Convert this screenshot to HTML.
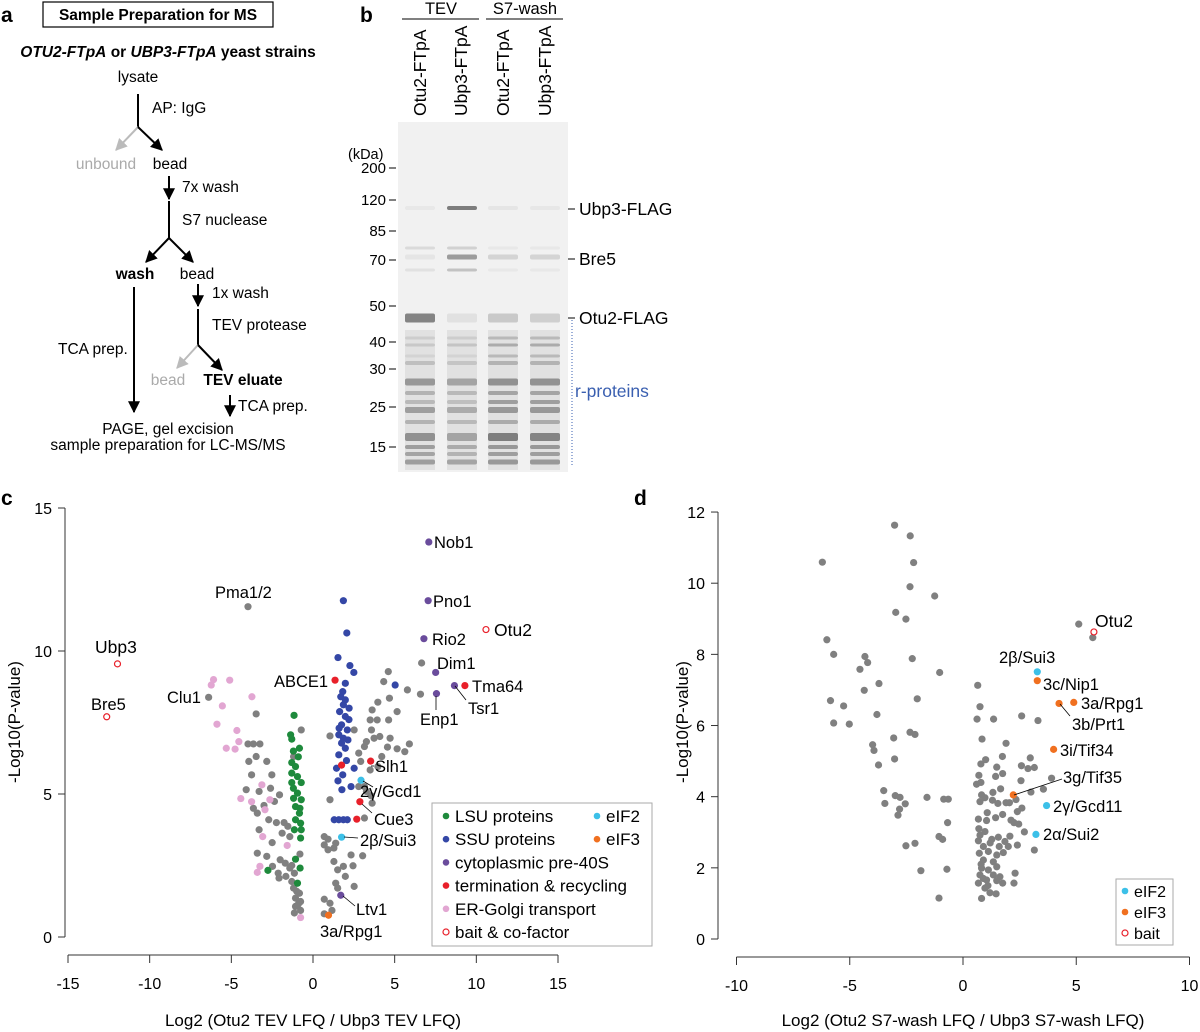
<!DOCTYPE html>
<html><head><meta charset="utf-8">
<style>
html,body{margin:0;padding:0;background:#fff;}
svg{display:block;font-family:"Liberation Sans",Arial,sans-serif;}
</style></head>
<body>
<svg id="fig" width="1200" height="1032" viewBox="0 0 1200 1032" xmlns="http://www.w3.org/2000/svg">
<defs>
<marker id="ah" viewBox="0 0 10 10" refX="9" refY="5" markerWidth="6" markerHeight="6" orient="auto"><path d="M0,0 L10,5 L0,10 z" fill="#000"/></marker>
<marker id="ahg" viewBox="0 0 10 10" refX="9" refY="5" markerWidth="6" markerHeight="6" orient="auto"><path d="M0,0 L10,5 L0,10 z" fill="#bbb"/></marker>
</defs>

<!-- Panel a: flowchart -->
<g font-size="15.5">
<text x="1" y="22" font-size="21" font-weight="bold">a</text>
<rect x="43" y="2" width="230" height="25" fill="none" stroke="#000" stroke-width="1.2"/>
<text x="158" y="20" text-anchor="middle" font-weight="bold" font-size="15.5">Sample Preparation for MS</text>
<text x="168" y="57" text-anchor="middle" font-weight="bold" font-size="15.5"><tspan font-style="italic">OTU2-FTpA</tspan> or <tspan font-style="italic">UBP3-FTpA</tspan> yeast strains</text>
<text x="138" y="82" text-anchor="middle">lysate</text>
<line x1="138" y1="94" x2="138" y2="127" stroke="#000" stroke-width="2"/>
<text x="152" y="113">AP: IgG</text>
<line x1="138" y1="127" x2="116" y2="150" stroke="#bbb" stroke-width="2" marker-end="url(#ahg)"/>
<line x1="138" y1="127" x2="162" y2="150" stroke="#000" stroke-width="2" marker-end="url(#ah)"/>
<text x="106" y="169" text-anchor="middle" fill="#aaa">unbound</text>
<text x="170" y="169" text-anchor="middle">bead</text>
<line x1="169" y1="176" x2="169" y2="199" stroke="#000" stroke-width="2" marker-end="url(#ah)"/>
<text x="182" y="192">7x wash</text>
<line x1="169" y1="201" x2="169" y2="238" stroke="#000" stroke-width="2"/>
<text x="182" y="225">S7 nuclease</text>
<line x1="169" y1="238" x2="146" y2="262" stroke="#000" stroke-width="2" marker-end="url(#ah)"/>
<line x1="169" y1="238" x2="193" y2="262" stroke="#000" stroke-width="2" marker-end="url(#ah)"/>
<text x="135" y="279" text-anchor="middle" font-weight="bold">wash</text>
<text x="197" y="279" text-anchor="middle">bead</text>
<line x1="134" y1="287" x2="134" y2="412" stroke="#000" stroke-width="2" marker-end="url(#ah)"/>
<text x="58" y="354">TCA prep.</text>
<line x1="198" y1="284" x2="198" y2="306" stroke="#000" stroke-width="2" marker-end="url(#ah)"/>
<text x="212" y="298">1x wash</text>
<line x1="198" y1="309" x2="198" y2="345" stroke="#000" stroke-width="2"/>
<text x="212" y="330">TEV protease</text>
<line x1="198" y1="345" x2="177" y2="368" stroke="#bbb" stroke-width="2" marker-end="url(#ahg)"/>
<line x1="198" y1="345" x2="222" y2="370" stroke="#000" stroke-width="2" marker-end="url(#ah)"/>
<text x="168" y="385" text-anchor="middle" fill="#aaa">bead</text>
<text x="243" y="385" text-anchor="middle" font-weight="bold">TEV eluate</text>
<line x1="230" y1="395" x2="230" y2="416" stroke="#000" stroke-width="2" marker-end="url(#ah)"/>
<text x="238" y="411">TCA prep.</text>
<text x="168" y="434" text-anchor="middle">PAGE, gel excision</text>
<text x="168" y="450" text-anchor="middle">sample preparation for LC-MS/MS</text>
</g>

<!-- Panel b: gel -->
<g font-size="15">
<text x="360" y="22" font-size="21" font-weight="bold">b</text>
<text x="441" y="14" text-anchor="middle" font-size="16.5">TEV</text>
<line x1="402" y1="19" x2="479" y2="19" stroke="#000" stroke-width="1"/>
<text x="525" y="14" text-anchor="middle" font-size="16.5">S7-wash</text>
<line x1="486" y1="19" x2="563" y2="19" stroke="#000" stroke-width="1"/>
<text transform="translate(426,116) rotate(-90)" font-size="17.5">Otu2-FTpA</text>
<text transform="translate(467,116) rotate(-90)" font-size="17.5">Ubp3-FTpA</text>
<text transform="translate(509,116) rotate(-90)" font-size="17.5">Otu2-FTpA</text>
<text transform="translate(551,116) rotate(-90)" font-size="17.5">Ubp3-FTpA</text>
<rect x="398" y="122" width="170" height="350" fill="#f1f1f1"/>
<g id="gelbands"></g>
<text x="348" y="159" font-size="14.5">(kDa)</text>
<g id="markers" font-size="15"></g>
<line x1="568" y1="209" x2="575" y2="209" stroke="#000"/>
<text x="579" y="215" font-size="17.5">Ubp3-FLAG</text>
<line x1="568" y1="259" x2="575" y2="259" stroke="#000"/>
<text x="579" y="265" font-size="17.5">Bre5</text>
<line x1="568" y1="318" x2="575" y2="318" stroke="#000"/>
<text x="579" y="324" font-size="17.5">Otu2-FLAG</text>
<line x1="572" y1="320" x2="572" y2="466" stroke="#3a5fb0" stroke-width="1" stroke-dasharray="1,2"/>
<text x="575" y="397" font-size="17.5" fill="#3a5fb0">r-proteins</text>
</g>

<!-- Panel c -->
<g>
<text x="1" y="505" font-size="21" font-weight="bold">c</text>
<g id="caxes" font-size="16"></g>
<text transform="translate(20,722) rotate(-90)" text-anchor="middle" font-size="17">-Log10(P-value)</text>
<text x="313" y="1026" text-anchor="middle" font-size="17">Log2 (Otu2 TEV LFQ / Ubp3 TEV LFQ)</text>
<g id="cdots"></g>
<g id="clabels" font-size="16.5"></g>
<g>
<rect x="432" y="803" width="220" height="143" fill="#fff" stroke="#aaa" stroke-width="1"/>
<g id="clegend" font-size="17"></g>
</g>
</g>

<!-- Panel d -->
<g>
<text x="634" y="505" font-size="21" font-weight="bold">d</text>
<g id="daxes" font-size="16"></g>
<text transform="translate(688,722) rotate(-90)" text-anchor="middle" font-size="17">-Log10(P-value)</text>
<text x="963" y="1026" text-anchor="middle" font-size="17">Log2 (Otu2 S7-wash LFQ / Ubp3 S7-wash LFQ)</text>
<g id="ddots"></g>
<g id="dlabels" font-size="16.5"></g>
<g>
<rect x="1116" y="879" width="57" height="66" fill="#fff" stroke="#aaa" stroke-width="1"/>
<g id="dlegend" font-size="16"></g>
</g>
</g>
</svg>

<script>
// ---------- Panel c data ----------
const cGray = [[-3.98,11.55],[-6.39,8.38],[6.65,9.58],[4.61,9.28],[4.33,8.93],[5.78,8.64],[6.58,8.49],[3.97,8.21],[4.68,8.35],[3.62,7.94],[5.15,7.88],[3.93,7.59],[4.63,7.59],[3.5,7.59],[3.58,7.24],[2.52,7.24],[1.04,7.03],[4.09,7.01],[3.74,6.95],[3.27,6.83],[4.72,6.95],[3.15,6.66],[5.9,6.75],[4.56,6.64],[5.15,6.58],[2.8,6.43],[5.62,6.48],[4.21,6.31],[3.5,5.84],[2.92,6.14],[3.97,5.96],[3.15,5.26],[3.27,5.09],[2.8,5.26],[3.55,4.94],[3.62,4.68],[3.15,4.16],[1.04,4.8],[0.69,3.51],[0.92,3.42],[1.39,3.28],[0.69,3.22],[0.92,3.05],[1.28,3.11],[2.33,2.87],[3.04,2.84],[1.28,2.64],[1.86,2.47],[2.45,2.49],[1.51,2.35],[1.98,2.12],[1.39,1.88],[1.51,1.71],[2.52,1.77],[0.69,1.32],[1.04,1.18],[1.16,0.93],[0.69,0.81],[-3.48,7.8],[-3.98,6.75],[-3.65,6.75],[-3.25,6.75],[-3.48,6.31],[-0.72,7.24],[-3.93,6.14],[-2.83,6.14],[-1.19,6.31],[-3.76,5.67],[-2.52,5.67],[-3.3,5.09],[-4.09,5.15],[-2.05,4.97],[-2.36,4.74],[-3.65,4.5],[-3.41,4.33],[-2.71,4.1],[-2.24,4.0],[-1.77,4.0],[-1.54,3.87],[-3.3,3.75],[-1.89,3.63],[-1.42,3.51],[-3.41,2.93],[-2.01,2.7],[-1.7,2.58],[-2.48,2.47],[-1.42,2.41],[-2.13,2.23],[-1.66,2.12],[-1.3,1.94],[-1.19,1.71],[-0.83,1.53],[-1.07,1.36],[-0.76,1.24],[-1.07,1.07],[-0.76,0.93],[-1.14,0.84],[-2.08,2.06],[-2.83,2.82],[-1.14,2.23],[-1.0,1.6],[-0.9,1.15],[-1.3,2.5],[-0.8,2.9],[-2.5,3.3],[-3.0,4.6],[-2.6,5.2]];
const cLsu = [[-1.16,7.75],[-1.37,7.07],[-1.3,6.92],[-0.83,6.6],[-1.3,6.1],[-1.07,5.96],[-1.3,5.73],[-0.95,5.61],[-1.3,5.4],[-0.72,5.4],[-0.95,5.03],[-1.19,4.85],[-0.72,4.8],[-1.07,4.56],[-0.83,4.33],[-1.07,4.1],[-0.76,3.98],[-1.14,3.75],[-0.72,3.75],[-0.76,3.46],[-1.07,2.72],[-0.79,2.41],[-2.76,2.33],[-0.95,1.88],[-1.2,6.5],[-0.9,6.3],[-1.2,5.2],[-0.8,4.5]];
const cSsu = [[1.86,11.76],[2.07,10.63],[1.53,9.77],[2.26,9.49],[2.5,9.25],[1.98,8.87],[5.03,8.81],[1.82,8.58],[1.98,8.29],[1.86,8.12],[2.21,8.0],[1.63,7.88],[1.98,7.71],[1.75,7.42],[2.1,7.24],[1.58,7.07],[1.86,6.95],[2.14,6.89],[1.75,6.78],[1.98,6.6],[1.58,6.37],[2.05,6.17],[1.44,5.9],[1.82,5.67],[2.52,5.9],[1.53,5.46],[1.77,5.15],[2.33,5.26],[1.30,4.1],[1.58,4.1],[1.86,4.1],[2.1,4.1],[1.7,8.4],[2.2,7.6],[1.6,7.3]];
const cPre40 = [[7.09,13.81],[7.05,11.76],[6.79,10.43],[7.51,9.25],[8.66,8.79],[7.56,8.51],[1.70,1.46]];
const cTerm = [[9.30,8.79],[1.35,8.98],[3.53,6.15],[1.75,6.01],[2.87,4.73],[2.68,4.12]];
const cErGolgi = [[-6.09,9.0],[-6.23,8.81],[-5.1,8.98],[-3.74,8.4],[-5.55,8.08],[-5.88,7.44],[-4.66,7.22],[-4.54,6.83],[-5.31,6.6],[-4.77,6.57],[-3.13,5.32],[-4.42,4.84],[-3.76,4.73],[-2.94,4.45],[-2.64,4.8],[-3.08,3.51],[-1.58,3.2],[-3.25,2.47],[-3.41,2.26],[-0.76,0.68]];
const cEif2 = [[2.94,5.48],[1.75,3.49]];
const cEif3 = [[0.95,0.76]];
const cBait = [[-11.97,9.55],[-12.63,7.70],[10.59,10.75]];
const cXTicks = [-15,-10,-5,0,5,10,15];
const cYTicks = [0,5,10,15];

// ---------- Panel d data ----------
const dGray = [[-3.02,11.63],[-2.33,11.33],[-6.21,10.59],[-2.18,10.58],[-2.34,9.9],[-1.25,9.64],[-2.97,9.18],[-2.52,8.99],[5.11,8.85],[5.73,8.47],[-6.01,8.41],[-5.71,8.0],[-4.33,7.94],[-4.21,7.77],[-2.24,7.88],[-4.55,7.58],[-1.03,7.49],[-3.71,7.18],[0.65,7.13],[-4.36,6.99],[-2.02,6.75],[-5.85,6.7],[-5.27,6.55],[0.75,6.53],[-3.8,6.31],[0.62,6.18],[1.35,6.18],[2.59,6.27],[3.31,6.14],[-5.71,6.07],[-5.02,6.04],[-2.34,5.81],[-2.12,5.75],[-3.06,5.65],[0.84,5.62],[1.9,5.5],[-3.99,5.46],[-3.93,5.3],[1.0,5.04],[0.79,4.92],[1.74,5.13],[-3.02,5.06],[-3.73,4.89],[2.97,5.09],[2.58,4.87],[2.87,4.79],[3.15,4.82],[1.49,4.83],[1.75,4.65],[1.44,4.57],[3.91,4.52],[2.56,4.45],[0.6,4.35],[0.79,4.4],[1.66,4.22],[1.32,4.12],[3.0,4.13],[3.55,4.21],[-3.5,4.17],[-2.99,4.03],[-2.78,3.98],[-1.59,3.98],[-0.85,3.93],[-0.65,3.93],[0.82,4.05],[0.97,3.97],[0.75,3.86],[-3.45,3.81],[-2.55,3.8],[-2.8,3.65],[-2.87,3.48],[1.54,3.81],[1.9,3.83],[2.05,3.83],[2.34,3.92],[2.4,3.58],[2.6,3.68],[1.07,3.55],[1.75,3.5],[1.44,3.41],[0.68,3.37],[1.04,3.33],[2.12,3.34],[2.25,3.27],[2.46,3.23],[-0.68,3.27],[2.71,3.01],[3.15,2.5],[-1.06,2.88],[-0.9,2.8],[-2.52,2.62],[-2.12,2.69],[0.75,2.92],[0.97,3.02],[0.68,2.76],[1.27,2.8],[1.56,2.86],[1.85,2.74],[2.07,2.89],[2.4,2.64],[2.0,2.6],[0.9,2.6],[1.12,2.46],[0.72,2.41],[1.49,2.36],[1.78,2.43],[0.9,2.22],[1.34,2.17],[0.82,1.99],[1.12,1.94],[1.49,2.03],[0.75,1.8],[1.34,1.8],[1.63,1.75],[1.04,1.66],[1.49,1.64],[0.68,1.57],[1.75,1.57],[2.3,1.85],[2.25,1.57],[0.97,1.43],[1.19,1.3],[1.46,1.27],[0.82,1.14],[-1.86,1.92],[-0.71,1.96],[-1.06,1.15],[0.7,3.1],[1.2,2.7],[0.8,2.1],[1.6,2.6],[1.1,1.5],[0.9,1.7],[1.3,3.9],[0.7,4.6]];
const dEif2 = [[3.28,7.51],[3.69,3.75],[3.22,2.94]];
const dEif3 = [[3.28,7.26],[4.24,6.62],[4.89,6.65],[4.0,5.33],[2.22,4.05]];
const dBait = [[5.78,8.63]];
const dXTicks = [-10,-5,0,5,10];
const dYTicks = [0,2,4,6,8,10,12];

const C = {gray:'#808080',lsu:'#1e8a3c',ssu:'#3447a6',pre:'#6a4c9c',term:'#e8202a',er:'#e2a6d2',eif2:'#3cc0e8',eif3:'#f07020',bait:'#e8202a'};
const NS='http://www.w3.org/2000/svg';

// axis functions
const cx = v => 313 + v*16.333;
const cy = v => 937 - v*28.6;
const dx = v => 963 + v*22.65;
const dy = v => 939 - v*35.58;

function mk(tag, attrs, parent){const e=document.createElementNS(NS,tag);for(const k in attrs)e.setAttribute(k,attrs[k]);parent.appendChild(e);return e;}

function axes(g, xf, yf, xt, yt, yAxisX, xAxisY, pfx){
  let l=mk('line',{x1:yAxisX,y1:yf(yt[yt.length-1]),x2:yAxisX,y2:yf(yt[0]),stroke:'#333','stroke-width':1},g);
  
  
  yt.forEach(t=>{
    mk('line',{x1:yAxisX-7,y1:yf(t),x2:yAxisX,y2:yf(t),stroke:'#333'},g);
    let tx=mk('text',{x:yAxisX-13,y:yf(t)+6,'text-anchor':'end'},g);tx.textContent=t;
    
    
  });
  let l2=mk('line',{x1:xf(xt[0]),y1:xAxisY,x2:xf(xt[xt.length-1]),y2:xAxisY,stroke:'#333','stroke-width':1},g);
  
  
  xt.forEach(t=>{
    mk('line',{x1:xf(t),y1:xAxisY,x2:xf(t),y2:xAxisY+8,stroke:'#333'},g);
    let tx=mk('text',{x:xf(t),y:xAxisY+34,'text-anchor':'middle'},g);tx.textContent=t;
    
    
  });
}
axes(document.getElementById('caxes'),cx,cy,cXTicks,cYTicks,65,955,'c');
axes(document.getElementById('daxes'),dx,dy,dXTicks,dYTicks,718,957,'d');

function dots(g, arr, xf, yf, color, name, open){
  arr.forEach(p=>{
    const c = open ? mk('circle',{cx:xf(p[0]),cy:yf(p[1]),r:3,fill:'#fff',stroke:color,'stroke-width':1.2},g)
                   : mk('circle',{cx:xf(p[0]),cy:yf(p[1]),r:3.6,fill:color},g);
    
    
  });
}
const cg=document.getElementById('cdots');
dots(cg,cGray,cx,cy,C.gray,'c-point-other');
dots(cg,cErGolgi,cx,cy,C.er,'c-point-er-golgi');
dots(cg,cLsu,cx,cy,C.lsu,'c-point-lsu');
dots(cg,cSsu,cx,cy,C.ssu,'c-point-ssu');
dots(cg,cPre40,cx,cy,C.pre,'c-point-pre40s');
dots(cg,cTerm,cx,cy,C.term,'c-point-termination');
dots(cg,cEif2,cx,cy,C.eif2,'c-point-eif2');
dots(cg,cEif3,cx,cy,C.eif3,'c-point-eif3');
dots(cg,cBait,cx,cy,C.bait,'c-point-bait',true);
const dg=document.getElementById('ddots');
dots(dg,dGray,dx,dy,C.gray,'d-point-other');
dots(dg,dEif2,dx,dy,C.eif2,'d-point-eif2');
dots(dg,dEif3,dx,dy,C.eif3,'d-point-eif3');
dots(dg,dBait,dx,dy,C.bait,'d-point-bait',true);

function lbl(g,x,y,t,name,extra){const e=mk('text',Object.assign({x:x,y:y},extra||{}),g);e.textContent=t;
  
  return e;}
function lead(g,x1,y1,x2,y2){mk('line',{x1:x1,y1:y1,x2:x2,y2:y2,stroke:'#000','stroke-width':0.8},g);}
const cl=document.getElementById('clabels');
lbl(cl,434,548,'Nob1','label-nob1');
lbl(cl,433,607,'Pno1','label-pno1');
lbl(cl,432,645,'Rio2','label-rio2');
lbl(cl,437,669,'Dim1','label-dim1');
lbl(cl,472,692,'Tma64','label-tma64');
lbl(cl,468,714,'Tsr1','label-tsr1'); lead(cl,455,686,466,700);
lbl(cl,420,725,'Enp1','label-enp1'); lead(cl,436,696,436,710);
lbl(cl,494,636,'Otu2','label-otu2-c',{'font-size':17.5});
lbl(cl,215,598,'Pma1/2','label-pma1');
lbl(cl,95,653,'Ubp3','label-ubp3',{'font-size':17.5});
lbl(cl,91,710,'Bre5','label-bre5');
lbl(cl,167,703,'Clu1','label-clu1');
lbl(cl,274,687,'ABCE1','label-abce1');
lbl(cl,375,772,'Slh1','label-slh1'); lead(cl,371,766,374,766);
lbl(cl,360,797,'2γ/Gcd1','label-gcd1-c'); lead(cl,363,781,373,787);
lbl(cl,374,825,'Cue3','label-cue3'); lead(cl,362,804,372,813);
lbl(cl,360,846,'2β/Sui3','label-sui3-c'); lead(cl,344,837,358,838);
lbl(cl,356,915,'Ltv1','label-ltv1'); lead(cl,343,896,355,906);
lbl(cl,320,937,'3a/Rpg1','label-rpg1-c');

const dl=document.getElementById('dlabels');
lbl(dl,1095,627,'Otu2','label-otu2-d',{'font-size':17.5});
lbl(dl,999,663,'2β/Sui3','label-sui3-d');
lbl(dl,1043,690,'3c/Nip1','label-nip1');
lbl(dl,1081,709,'3a/Rpg1','label-rpg1-d');
lbl(dl,1072,730,'3b/Prt1','label-prt1'); lead(dl,1060,704,1070,716);
lbl(dl,1060,756,'3i/Tif34','label-tif34');
lbl(dl,1063,783,'3g/Tif35','label-tif35'); lead(dl,1014,795,1062,779);
lbl(dl,1053,812,'2γ/Gcd11','label-gcd11');
lbl(dl,1043,840,'2α/Sui2','label-sui2');

// legends
const cLegendNames=['LSU proteins','SSU proteins','cytoplasmic pre-40S','termination & recycling','ER-Golgi transport','bait & co-factor'];
const cLegendCols=[C.lsu,C.ssu,C.pre,C.term,C.er,C.bait];
const clg=document.getElementById('clegend');
cLegendNames.forEach((n,i)=>{
  const y=816+i*23.2;
  if(i===5){mk('circle',{cx:446,cy:y,r:3,fill:'#fff',stroke:C.bait,'stroke-width':1.2},clg);}
  else mk('circle',{cx:446,cy:y,r:3.3,fill:cLegendCols[i]},clg);
  lbl(clg,455,y+6,n,'c-legend-entry');
});
[['eIF2',C.eif2],['eIF3',C.eif3]].forEach((p,i)=>{const y=816+i*23.2;mk('circle',{cx:597,cy:y,r:3.3,fill:p[1]},clg);lbl(clg,606,y+6,p[0],'c-legend-entry');});
const dlg=document.getElementById('dlegend');
[['eIF2',C.eif2],['eIF3',C.eif3],['bait',C.bait]].forEach((p,i)=>{const y=891+i*21;
  if(i===2)mk('circle',{cx:1125,cy:y,r:3,fill:'#fff',stroke:p[1],'stroke-width':1.2},dlg);else mk('circle',{cx:1125,cy:y,r:3.3,fill:p[1]},dlg);
  lbl(dlg,1134,y+6,p[0],'d-legend-entry');});

// gel markers
const markerKda=['200','120','85','70','50','40','30','25','15'];
const markerY=[168,200,231,260,306,342,369,407,447];
const mg=document.getElementById('markers');
markerKda.forEach((k,i)=>{lbl(mg,386,markerY[i]+5,k,'marker-label',{'text-anchor':'end'});mk('line',{x1:389,y1:markerY[i],x2:396,y2:markerY[i],stroke:'#000'},mg);});

// gel bands: [y, height, opacity per lane]
const laneX=[420,462,503,545];
const bands=[
 [208,4,[0.05,0.75,0.08,0.06]],
 [248,3,[0.15,0.2,0.05,0.05]],
 [257,5,[0.08,0.55,0.18,0.18]],
 [270,3,[0.1,0.3,0.05,0.05]],
 [318,9,[0.7,0.1,0.25,0.22]],
 [338,3,[0.15,0.15,0.3,0.3]],
 [345,3,[0.18,0.22,0.4,0.4]],
 [356,3,[0.1,0.1,0.3,0.3]],
 [363,4,[0.25,0.2,0.35,0.35]],
 [382,7,[0.55,0.45,0.6,0.6]],
 [393,4,[0.35,0.3,0.45,0.45]],
 [402,4,[0.3,0.25,0.5,0.5]],
 [410,6,[0.5,0.4,0.55,0.55]],
 [422,4,[0.35,0.3,0.4,0.4]],
 [437,8,[0.6,0.45,0.75,0.7]],
 [447,4,[0.5,0.4,0.55,0.55]],
 [454,4,[0.45,0.35,0.5,0.5]],
 [462,5,[0.5,0.45,0.55,0.55]]
];
const gb=document.getElementById('gelbands');
bands.forEach(b=>{b[2].forEach((o,i)=>{const r=mk('rect',{x:laneX[i]-15,y:b[0]-b[1]/2,width:30,height:b[1],fill:'#555','fill-opacity':o,rx:2},gb);
  
  });});
// lane smear
laneX.forEach(x=>{const r=mk('rect',{x:x-15,y:330,width:30,height:140,fill:'#888','fill-opacity':0.15},gb);
  
  });
</script>
</body></html>
